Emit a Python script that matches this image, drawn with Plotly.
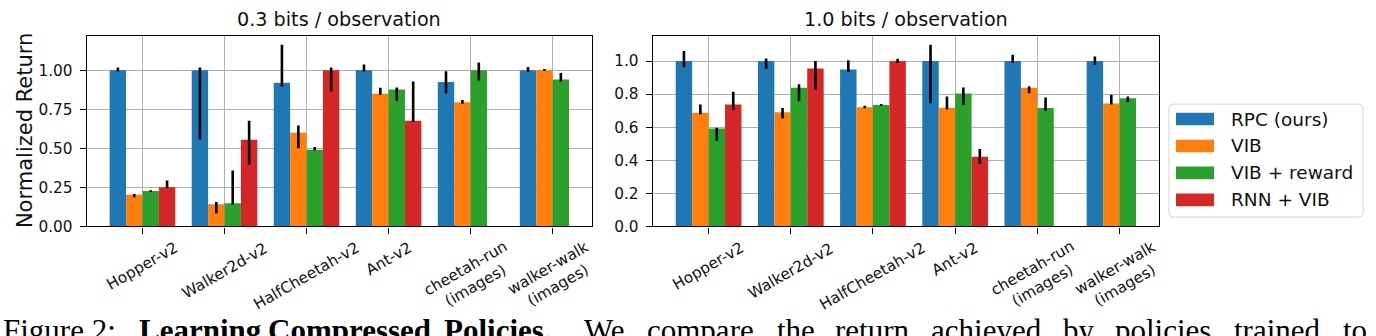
import math
import plotly.graph_objects as go

# ---------------- data ----------------
envs = ["Hopper-v2", "Walker2d-v2", "HalfCheetah-v2", "Ant-v2",
        "cheetah-run<br>(images)", "walker-walk<br>(images)"]
methods = ["RPC (ours)", "VIB", "VIB + reward", "RNN + VIB"]
colors = ["#1f77b4", "#ff7f0e", "#2ca02c", "#d62728"]
panel_titles = ["0.3 bits / observation", "1.0 bits / observation"]
y_label = "Normalized Return"

yticks_03 = [0.0, 0.25, 0.5, 0.75, 1.0]
yticktext_03 = ["0.00", "0.25", "0.50", "0.75", "1.00"]
yticks_10 = [0.0, 0.2, 0.4, 0.6, 0.8, 1.0]
yticktext_10 = ["0.0", "0.2", "0.4", "0.6", "0.8", "1.0"]

# 0.3 bits / observation : bar value, error-bar top, error-bar bottom
rpc_03 = [1.00, 1.00, 0.92, 1.00, 0.925, 1.00]
rpc_03_top = [1.019, 1.019, 1.164, 1.037, 0.994, 1.022]
rpc_03_bot = [0.992, 0.557, 0.896, 0.992, 0.852, 0.991]
vib_03 = [0.204, 0.142, 0.601, 0.850, 0.796, 1.00]
vib_03_top = [0.208, 0.156, 0.647, 0.888, 0.810, 1.008]
vib_03_bot = [0.187, 0.083, 0.501, 0.844, 0.786, 0.998]
vibr_03 = [0.227, 0.148, 0.491, 0.877, 1.00, 0.941]
vibr_03_top = [0.232, 0.358, 0.509, 0.890, 1.050, 0.983]
vibr_03_bot = [0.222, 0.140, 0.487, 0.804, 0.935, 0.929]
rnn_03 = [0.252, 0.555, 1.00, 0.678, None, None]
rnn_03_top = [0.295, 0.678, 1.019, 0.929, None, None]
rnn_03_bot = [0.245, 0.395, 0.865, 0.670, None, None]

# 1.0 bits / observation
rpc_10 = [1.00, 1.00, 0.949, 1.00, 1.00, 1.00]
rpc_10_top = [1.061, 1.016, 1.004, 1.098, 1.038, 1.028]
rpc_10_bot = [0.963, 0.953, 0.934, 0.745, 0.988, 0.976]
vib_10 = [0.688, 0.691, 0.720, 0.718, 0.839, 0.744]
vib_10_top = [0.738, 0.716, 0.730, 0.785, 0.847, 0.796]
vib_10_bot = [0.679, 0.653, 0.715, 0.708, 0.806, 0.738]
vibr_10 = [0.592, 0.838, 0.734, 0.804, 0.716, 0.775]
vibr_10_top = [0.596, 0.859, 0.741, 0.840, 0.779, 0.785]
vibr_10_bot = [0.518, 0.757, 0.730, 0.735, 0.700, 0.751]
rnn_10 = [0.738, 0.955, 1.00, 0.422, None, None]
rnn_10_top = [0.814, 1.000, 1.014, 0.469, None, None]
rnn_10_bot = [0.702, 0.826, 0.988, 0.379, None, None]

# caption line (justified in the source, so words are placed one by one)
caption_words = ["Figure 2:", "<b>Learning</b>", "<b>Compressed</b>", "<b>Policies.</b>",
                 "We", "compare", "the", "return", "achieved", "by", "policies",
                 "trained", "to"]
caption_x = [1, 137, 266, 442, 582, 645, 775, 833, 929, 1061, 1113, 1232, 1341]

# ---------------- layout helpers ----------------
W, H = 1376, 336
def px(x):
    return x / W
def py(y):
    return 1 - y / H

FONT = "DejaVu Sans"
TXT = "#111111"
TICK_FS = 15.3
LABEL_ANGLE = 30

# approximate DejaVu Sans advance widths (em) for placing rotated labels
DV = {"H": .752, "o": .612, "p": .635, "e": .615, "r": .411, "-": .361, "v": .592,
      "2": .636, "W": .989, "a": .613, "l": .278, "k": .579, "d": .635, "f": .352,
      "C": .698, "h": .634, "t": .392, "A": .684, "n": .634, "c": .550, "u": .634,
      "(": .390, ")": .390, "i": .278, "m": .974, "g": .635, "s": .521, "w": .818}

def label_center_offset(label):
    lines = label.split("<br>")
    wmax = max(sum(DV.get(ch, .6) for ch in ln) for ln in lines) * TICK_FS
    hblk = len(lines) * TICK_FS * 1.16
    a = math.radians(LABEL_ANGLE)
    return (wmax * math.sin(a) + hblk * math.cos(a)) / 2

panels = [
    dict(series=[(rpc_03, rpc_03_top, rpc_03_bot), (vib_03, vib_03_top, vib_03_bot),
                 (vibr_03, vibr_03_top, vibr_03_bot), (rnn_03, rnn_03_top, rnn_03_bot)],
         xdom=(86.7, 592.0), yrange=(0, 1.222)),
    dict(series=[(rpc_10, rpc_10_top, rpc_10_bot), (vib_10, vib_10_top, vib_10_bot),
                 (vibr_10, vibr_10_top, vibr_10_bot), (rnn_10, rnn_10_top, rnn_10_bot)],
         xdom=(652.7, 1159.0), yrange=(0, 1.153)),
]

fig = go.Figure()
positions = list(range(len(envs)))
annotations = []
shapes = []
LABEL_TOP = 246

for p, panel in enumerate(panels):
    xa = "x" if p == 0 else "x2"
    ya = "y" if p == 0 else "y2"
    for m, (vals, tops, bots) in enumerate(panel["series"]):
        up = [None if v is None else t - v for v, t in zip(vals, tops)]
        dn = [None if v is None else v - b for v, b in zip(vals, bots)]
        fig.add_trace(go.Bar(
            x=positions, y=vals, name=methods[m], marker_color=colors[m],
            marker_line_width=0, showlegend=False, xaxis=xa, yaxis=ya,
            error_y=dict(type="data", symmetric=False, array=up, arrayminus=dn,
                         color="black", thickness=2.6, width=0),
        ))
    x0, x1 = panel["xdom"]
    annotations.append(dict(text=panel_titles[p], x=px((x0 + x1) / 2), y=py(20),
                            xref="paper", yref="paper", showarrow=False,
                            xanchor="center", yanchor="middle",
                            font=dict(family=FONT, size=19.2, color=TXT)))
    for i, env in enumerate(envs):
        cy = LABEL_TOP + label_center_offset(env)
        annotations.append(dict(text=env, x=i, y=py(cy), xref=xa, yref="paper",
                                showarrow=False, textangle=-LABEL_ANGLE, align="center",
                                xanchor="center", yanchor="middle",
                                font=dict(family=FONT, size=TICK_FS, color=TXT)))

axis_common = dict(showline=True, mirror=True, linecolor="black", linewidth=1.2,
                   ticks="outside", ticklen=6, tickwidth=1.2, tickcolor="black",
                   showgrid=True, gridcolor="#b0b0b0", gridwidth=1.2,
                   zeroline=False)

fig.update_layout(
    width=W, height=H, margin=dict(l=0, r=0, t=0, b=0),
    paper_bgcolor="white", plot_bgcolor="white",
    barmode="group", bargap=0.2, bargroupgap=0,
    xaxis=dict(domain=[px(86.7), px(592.0)], range=[-0.68, 5.48],
               tickmode="array", tickvals=positions, showticklabels=False,
               anchor="y", **axis_common),
    yaxis=dict(domain=[py(232.7), py(36.7)], range=list(panels[0]["yrange"]),
               tickmode="array", tickvals=yticks_03, ticktext=yticktext_03,
               ticklabelstandoff=4, anchor="x",
               tickfont=dict(family=FONT, size=TICK_FS, color=TXT), **axis_common),
    xaxis2=dict(domain=[px(652.7), px(1159.0)], range=[-0.68, 5.48],
                tickmode="array", tickvals=positions, showticklabels=False,
                anchor="y2", **axis_common),
    yaxis2=dict(domain=[py(232.7), py(36.7)], range=list(panels[1]["yrange"]),
                tickmode="array", tickvals=yticks_10, ticktext=yticktext_10,
                ticklabelstandoff=4, anchor="x2",
                tickfont=dict(family=FONT, size=TICK_FS, color=TXT), **axis_common),
)

annotations.append(dict(text=y_label, x=px(25), y=py(134.7), xref="paper", yref="paper",
                        showarrow=False, textangle=-90, xanchor="center", yanchor="middle",
                        font=dict(family=FONT, size=21, color=TXT)))

# manual legend (matplotlib style)
lx0, lx1, ly0, ly1, r = 1169, 1363, 107, 223, 4
path = (f"M {px(lx0 + r)} {py(ly0)} L {px(lx1 - r)} {py(ly0)} "
        f"Q {px(lx1)} {py(ly0)} {px(lx1)} {py(ly0 + r)} "
        f"L {px(lx1)} {py(ly1 - r)} Q {px(lx1)} {py(ly1)} {px(lx1 - r)} {py(ly1)} "
        f"L {px(lx0 + r)} {py(ly1)} Q {px(lx0)} {py(ly1)} {px(lx0)} {py(ly1 - r)} "
        f"L {px(lx0)} {py(ly0 + r)} Q {px(lx0)} {py(ly0)} {px(lx0 + r)} {py(ly0)} Z")
shapes.append(dict(type="path", path=path, xref="paper", yref="paper",
                   line=dict(color="#d5d5d5", width=1), fillcolor="rgba(255,255,255,0.8)"))
entry_y = [122.3, 150.0, 177.7, 205.3]
for m, name in enumerate(methods):
    cy = entry_y[m]
    shapes.append(dict(type="rect", xref="paper", yref="paper",
                       x0=px(1176), x1=px(1214), y0=py(cy + 6.5), y1=py(cy - 6.5),
                       fillcolor=colors[m], line=dict(width=0)))
    annotations.append(dict(text=name, x=px(1229), y=py(cy), xref="paper", yref="paper",
                            showarrow=False, xanchor="left", yanchor="middle",
                            font=dict(family=FONT, size=18.5, color=TXT)))

for word, wx in zip(caption_words, caption_x):
    annotations.append(dict(text=word, x=px(wx), y=py(319.5), xref="paper", yref="paper",
                            showarrow=False, xanchor="left", yanchor="top",
                            font=dict(family="Liberation Serif", size=31, color="black")))

fig.update_layout(annotations=annotations, shapes=shapes)
fig.write_html("out.html", config={"displayModeBar": False},
               post_script="document.body.style.margin='0';document.body.style.overflow='hidden';")
